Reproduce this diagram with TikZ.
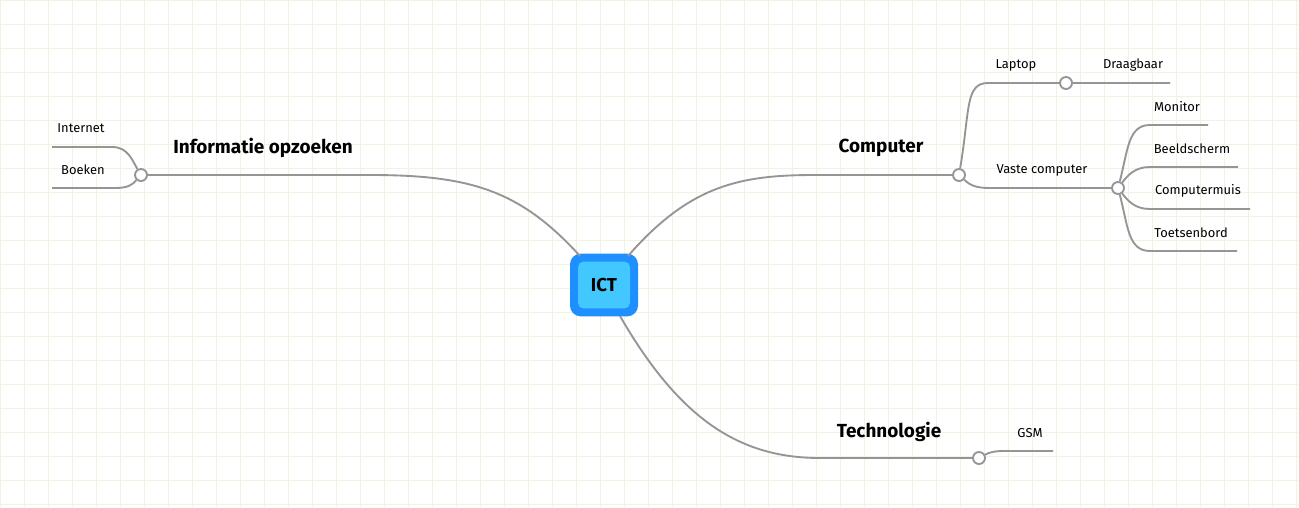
\documentclass[tikz,border=0pt]{standalone}
\usepackage{fontspec}
\setmainfont{Fira Sans}
\definecolor{ln}{HTML}{959595}
\definecolor{gr}{HTML}{EEF3E2}
\definecolor{bout}{HTML}{1E8FFF}
\definecolor{bin}{HTML}{42C8FF}
\begin{document}
\begin{tikzpicture}[x=0.75pt,y=-0.75pt,
 br/.style={draw=ln,line width=1.4pt},
 kn/.style={circle,draw=ln,line width=1.4pt,fill=white,inner sep=0pt,minimum size=9pt},
 sm/.style={font=\fontsize{9.7pt}{11pt}\selectfont,anchor=center},
 bg/.style={font=\bfseries\fontsize{14.2pt}{16pt}\selectfont,anchor=center}]
\useasboundingbox (0,0) rectangle (1299,507);
\fill[white] (0,0) rectangle (1299,507);
\draw[gr,line width=0.5pt,step=18pt] (0,0) grid (1299,507);
% central
\node[draw=none,fill=bout,rounded corners=8pt,minimum width=51pt,minimum height=47pt] (ict) at (604,285) {};
\node[fill=bin,rounded corners=4pt,minimum width=39pt,minimum height=35pt,font=\bfseries\fontsize{14pt}{16pt}\selectfont] (ictt) at (604,285) {ICT};
\coordinate (a1) at (580,256);
\coordinate (a2) at (628,256);
\coordinate (a3) at (620,316);
% knots
\node[kn] (k1) at (141,175) {};
\node[kn] (k2) at (959,175) {};
\node[kn] (k3) at (1066,83) {};
\node[kn] (k4) at (1118,188) {};
\node[kn] (k5) at (979,458) {};
% main branches
\draw[br] (a1) .. controls (520,190) and (470,175) .. (370,175) -- (k1);
\draw[br] (a2) .. controls (690,185) and (740,175) .. (815,175) -- (k2);
\draw[br] (a3) .. controls (680,420) and (740,458) .. (820,458) -- (k5);
\node[bg] (l1) at (263,148) {Informatie opzoeken};
\node[bg] (l2) at (881,148) {Computer};
\node[bg] (l3) at (889,432) {Technologie};
% left subs
\coordinate (i1) at (52,147); \coordinate (i2) at (52,188);
\draw[br] (k1) .. controls (132,160) and (128,147) .. (112,147) -- (i1);
\draw[br] (k1) .. controls (132,185) and (128,188) .. (115,188) -- (i2);
\node[sm] (t1) at (81,128) {Internet};
\node[sm] (t2) at (83,170) {Boeken};
% computer subs
\coordinate (c1) at (1170,83);
\draw[br] (k2) .. controls (970,110) and (965,83) .. (988,83) -- (k3) -- (c1);
\draw[br] (k2) .. controls (970,185) and (975,188) .. (990,188) -- (k4);
\node[sm] (t3) at (1016,65) {Laptop};
\node[sm] (t4) at (1133,65) {Draagbaar};
\node[sm] (t5) at (1042,170) {Vaste computer};
\coordinate (m1) at (1208,125);\coordinate (m2) at (1238,167);
\coordinate (m3) at (1250,209);\coordinate (m4) at (1237,251);
\draw[br] (k4) .. controls (1128,150) and (1128,125) .. (1150,125) -- (m1);
\draw[br] (k4) .. controls (1128,175) and (1135,167) .. (1150,167) -- (m2);
\draw[br] (k4) .. controls (1128,201) and (1135,209) .. (1150,209) -- (m3);
\draw[br] (k4) .. controls (1128,226) and (1128,251) .. (1150,251) -- (m4);
\node[sm] (t6) at (1177,107) {Monitor};
\node[sm] (t7) at (1192,149) {Beeldscherm};
\node[sm] (t8) at (1198,191) {Computermuis};
\node[sm] (t9) at (1191,233) {Toetsenbord};
% GSM
\coordinate (g1) at (1053,451);
\draw[br] (k5) .. controls (990,452) and (995,451) .. (1005,451) -- (g1);
\node[sm] (t10) at (1030,433) {GSM};
\end{tikzpicture}
\end{document}
